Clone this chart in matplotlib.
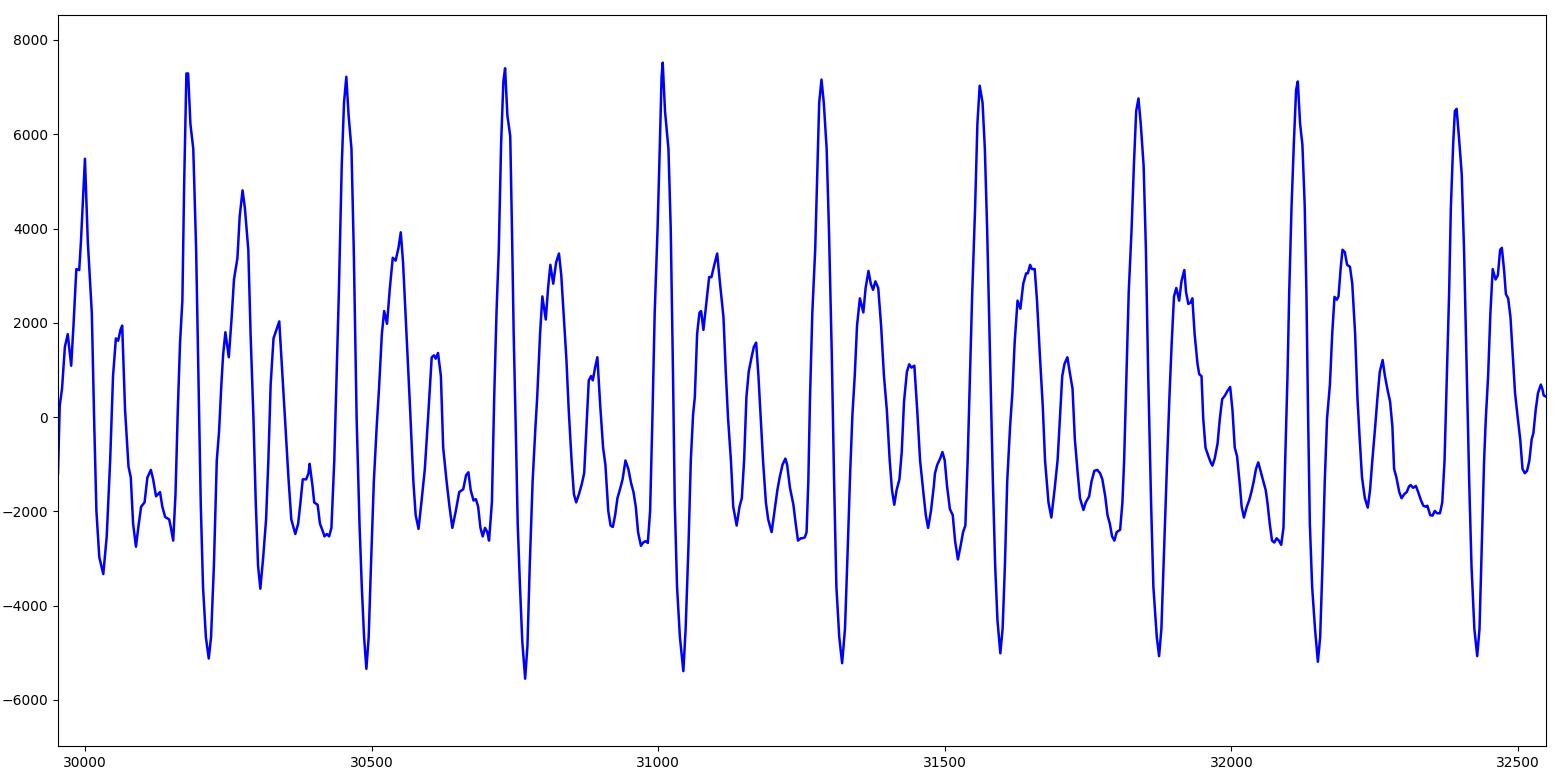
import matplotlib
matplotlib.use("Agg")
import matplotlib.pyplot as plt

# sample index and amplitude
sample_idx = [
    29953, 29956, 29960, 29965, 29970, 29976, 29980, 29985, 29990, 29993,
    30000, 30005, 30012, 30016, 30020, 30025, 30032, 30038, 30044, 30049,
    30054, 30058, 30062, 30065, 30070, 30076, 30080, 30084, 30089, 30093,
    30098, 30104, 30109, 30115, 30119, 30124, 30131, 30135, 30140, 30147,
    30150, 30154, 30158, 30162, 30166, 30170, 30173, 30177, 30180, 30184,
    30189, 30194, 30198, 30202, 30206, 30211, 30216, 30220, 30225, 30230,
    30234, 30238, 30241, 30245, 30251, 30256, 30260, 30266, 30270, 30275,
    30279, 30285, 30289, 30294, 30298, 30302, 30306, 30311, 30316, 30320,
    30324, 30329, 30334, 30339, 30343, 30349, 30355, 30360, 30367, 30372,
    30376, 30380, 30386, 30390, 30392, 30397, 30400, 30406, 30410, 30414,
    30418, 30422, 30426, 30430, 30435, 30439, 30443, 30448, 30452, 30456,
    30460, 30465, 30469, 30474, 30479, 30483, 30487, 30491, 30495, 30499,
    30504, 30509, 30513, 30518, 30522, 30527, 30532, 30537, 30542, 30547,
    30551, 30555, 30561, 30567, 30573, 30577, 30582, 30587, 30593, 30599,
    30605, 30609, 30612, 30616, 30621, 30625, 30631, 30636, 30641, 30647,
    30653, 30660, 30665, 30669, 30673, 30678, 30682, 30686, 30690, 30694,
    30698, 30702, 30705, 30710, 30714, 30718, 30722, 30726, 30730, 30733,
    30737, 30742, 30745, 30748, 30752, 30755, 30759, 30763, 30768, 30772,
    30776, 30781, 30786, 30789, 30794, 30798, 30804, 30808, 30812, 30817,
    30822, 30827, 30831, 30835, 30840, 30844, 30849, 30853, 30857, 30862,
    30867, 30871, 30875, 30879, 30883, 30886, 30890, 30894, 30899, 30904,
    30908, 30913, 30917, 30921, 30925, 30929, 30933, 30938, 30943, 30948,
    30953, 30957, 30961, 30965, 30970, 30974, 30978, 30982, 30986, 30990,
    30994, 30999, 31003, 31006, 31008, 31012, 31018, 31022, 31026, 31029,
    31033, 31038, 31044, 31048, 31053, 31057, 31061, 31064, 31068, 31072,
    31075, 31079, 31083, 31089, 31093, 31098, 31103, 31108, 31114, 31118,
    31122, 31127, 31131, 31137, 31142, 31146, 31150, 31154, 31158, 31163,
    31167, 31171, 31175, 31179, 31183, 31188, 31192, 31198, 31203, 31208,
    31212, 31217, 31222, 31225, 31230, 31236, 31240, 31244, 31249, 31252,
    31256, 31259, 31262, 31265, 31269, 31274, 31278, 31281, 31285, 31289,
    31294, 31298, 31303, 31307, 31311, 31316, 31321, 31326, 31331, 31335,
    31339, 31343, 31347, 31352, 31358, 31362, 31367, 31371, 31375, 31379,
    31384, 31389, 31394, 31399, 31404, 31408, 31412, 31416, 31421, 31425,
    31429, 31434, 31438, 31442, 31447, 31452, 31457, 31463, 31467, 31471,
    31476, 31481, 31483, 31487, 31492, 31496, 31500, 31504, 31509, 31514,
    31518, 31523, 31528, 31532, 31536, 31540, 31544, 31548, 31553, 31557,
    31561, 31566, 31570, 31574, 31579, 31584, 31588, 31592, 31597, 31601,
    31605, 31609, 31614, 31618, 31622, 31627, 31632, 31637, 31642, 31645,
    31649, 31652, 31657, 31661, 31666, 31671, 31675, 31681, 31686, 31692,
    31697, 31701, 31705, 31709, 31714, 31718, 31723, 31727, 31732, 31736,
    31742, 31746, 31752, 31756, 31761, 31766, 31771, 31775, 31780, 31784,
    31788, 31792, 31796, 31800, 31806, 31810, 31813, 31817, 31821, 31826,
    31830, 31834, 31838, 31842, 31847, 31851, 31855, 31860, 31864, 31870,
    31874, 31878, 31883, 31888, 31892, 31896, 31900, 31904, 31909, 31913,
    31918, 31921, 31925, 31929, 31932, 31936, 31941, 31944, 31948, 31951,
    31955, 31960, 31964, 31967, 31971, 31976, 31980, 31984, 31989, 31993,
    31998, 32002, 32006, 32010, 32015, 32018, 32022, 32027, 32031, 32035,
    32039, 32043, 32047, 32052, 32056, 32060, 32063, 32067, 32071, 32075,
    32079, 32083, 32087, 32091, 32094, 32098, 32101, 32105, 32109, 32113,
    32116, 32120, 32124, 32128, 32131, 32134, 32137, 32141, 32146, 32151,
    32155, 32159, 32163, 32167, 32172, 32176, 32180, 32184, 32187, 32191,
    32194, 32198, 32202, 32207, 32211, 32216, 32220, 32224, 32228, 32233,
    32238, 32242, 32246, 32251, 32255, 32259, 32264, 32268, 32273, 32277,
    32281, 32284, 32288, 32293, 32297, 32302, 32306, 32310, 32313, 32317,
    32322, 32326, 32331, 32335, 32339, 32342, 32347, 32351, 32355, 32359,
    32364, 32368, 32372, 32376, 32380, 32383, 32387, 32390, 32393, 32397,
    32402, 32406, 32411, 32415, 32419, 32424, 32429, 32433, 32437, 32441,
    32444, 32448, 32452, 32456, 32461, 32465, 32469, 32472, 32476, 32479,
    32483, 32487, 32491, 32495, 32499, 32504, 32508, 32512, 32516, 32520,
    32524, 32527, 32531, 32535, 32540, 32543, 32545, 32548, 32550,
]

amplitude = [
    -1200, 240, 600, 1490, 1760, 1090, 1940, 3140, 3120, 3720,
    5480, 3720, 2210, -30, -1990, -2970, -3330, -2530, -920, 870,
    1670, 1620, 1850, 1940, 150, -1050, -1280, -2260, -2750, -2350,
    -1900, -1810, -1280, -1120, -1320, -1680, -1590, -1900, -2120, -2170,
    -2350, -2620, -1630, 150, 1600, 2470, 4890, 7290, 7290, 6220,
    5690, 3550, 870, -1810, -3600, -4670, -5120, -4670, -3150, -920,
    -300, 690, 1310, 1800, 1270, 2120, 2920, 3370, 4260, 4810,
    4440, 3550, 1760, -30, -1810, -3150, -3640, -2970, -2170, -920,
    690, 1670, 1850, 2030, 1220, -30, -1280, -2170, -2480, -2260,
    -1810, -1320, -1320, -1190, -990, -1460, -1810, -1860, -2260, -2390,
    -2530, -2480, -2530, -2350, -920, 870, 2650, 5330, 6670, 7220,
    6400, 5690, 3550, -30, -2260, -3600, -4670, -5340, -4670, -3150,
    -1370, -200, 600, 1760, 2250, 1980, 2740, 3380, 3320, 3590,
    3920, 3280, 1760, 240, -1370, -2080, -2370, -1810, -1100, 60,
    1270, 1310, 1240, 1360, 870, -650, -1370, -1900, -2350, -1990,
    -1590, -1530, -1230, -1170, -1550, -1770, -1740, -1900, -2350, -2530,
    -2350, -2440, -2620, -1810, 420, 2210, 3550, 5780, 7120, 7400,
    6400, 5960, 3990, 1760, -470, -2260, -3600, -4760, -5550, -4850,
    -3150, -1370, -200, 420, 1760, 2560, 2070, 2740, 3230, 2830,
    3280, 3470, 3010, 2210, 1220, 150, -920, -1630, -1810, -1630,
    -1410, -1190, -200, 780, 870, 780, 1050, 1270, 240, -650,
    -1010, -1990, -2300, -2330, -2080, -1720, -1550, -1320, -920, -1100,
    -1410, -1590, -1900, -2440, -2730, -2660, -2630, -2670, -1990, -30,
    2210, 3990, 5780, 7210, 7520, 6490, 5690, 3990, 870, -1810,
    -3600, -4670, -5390, -4490, -2710, -920, 60, 420, 1760, 2210,
    2250, 1850, 2300, 2970, 2970, 3230, 3470, 2830, 2120, 960,
    -30, -920, -1900, -2300, -1900, -1720, -920, 420, 960, 1270,
    1490, 1580, 870, -30, -920, -1810, -2170, -2440, -1990, -1550,
    -1280, -1010, -880, -1010, -1500, -1860, -2260, -2620, -2570, -2570,
    -2550, -2440, -1370, 420, 2210, 3550, 5330, 6670, 7160, 6670,
    5690, 3990, 1310, -1370, -3600, -4670, -5220, -4490, -2710, -1190,
    60, 870, 1940, 2520, 2220, 2740, 3100, 2830, 2700, 2880,
    2740, 1940, 870, 150, -920, -1550, -1860, -1550, -1320, -740,
    330, 960, 1120, 1050, 1090, 150, -920, -1630, -2080, -2350,
    -1990, -1460, -1190, -1010, -880, -740, -920, -1460, -1950, -2080,
    -2620, -3020, -2710, -2440, -2300, -920, 870, 2650, 4440, 6220,
    7030, 6670, 5690, 3990, 1310, -1370, -3150, -4310, -5010, -4490,
    -3150, -1370, -200, 510, 1580, 2470, 2300, 2830, 3050, 3050,
    3230, 3140, 3140, 2470, 1310, 240, -920, -1810, -2130, -1500,
    -900, -30, 870, 1130, 1270, 960, 600, -470, -1190, -1720,
    -1970, -1810, -1680, -1370, -1140, -1120, -1190, -1320, -1680, -2080,
    -2260, -2530, -2620, -2440, -2390, -1810, -920, 870, 2650, 3990,
    5330, 6490, 6760, 6220, 5330, 3550, 870, -1810, -3600, -4670,
    -5070, -4490, -2710, -920, 420, 1580, 2560, 2740, 2470, 2880,
    3120, 2650, 2400, 2430, 2520, 1760, 1130, 910, 870, -30,
    -650, -830, -960, -1030, -880, -560, -30, 380, 460, 550,
    640, 150, -650, -830, -1460, -1900, -2130, -1900, -1770, -1590,
    -1370, -1100, -960, -1190, -1370, -1550, -1810, -2260, -2620, -2660,
    -2570, -2620, -2710, -2350, -920, 870, 2650, 4440, 5780, 6940,
    7120, 6220, 5780, 4500, 2650, -30, -2260, -3600, -4490, -5190,
    -4670, -3150, -1370, -30, 690, 1760, 2550, 2490, 2560, 3190,
    3550, 3500, 3230, 3190, 2830, 1760, 420, -470, -1280, -1720,
    -1920, -1550, -920, -200, 420, 960, 1210, 870, 550, 330,
    -200, -1100, -1280, -1590, -1720, -1630, -1590, -1470, -1440, -1500,
    -1460, -1590, -1770, -1880, -1900, -1880, -2080, -2090, -1990, -2040,
    -2040, -1810, -920, 870, 2650, 4440, 5780, 6490, 6540, 5960,
    5150, 3550, 870, -1370, -3150, -4490, -5070, -4490, -2710, -920,
    -30, 870, 2210, 3140, 2920, 3010, 3550, 3590, 3100, 2610,
    2520, 2120, 1310, 510, 60, -470, -1100, -1190, -1140, -920,
    -470, -340, 150, 510, 690, 580, 460, 440, 430,
]

fig = plt.figure(figsize=(15.66, 7.82), dpi=100)
ax = fig.add_axes([58 / 1566, 36 / 782, 1488 / 1566, 731 / 782])

ax.plot(sample_idx, amplitude, color='b', linewidth=1.8, solid_joinstyle='round')

ax.set_xlim(29953, 32549)
ax.set_ylim(-6977, 8530)

fig.savefig("out.png", dpi=100)
